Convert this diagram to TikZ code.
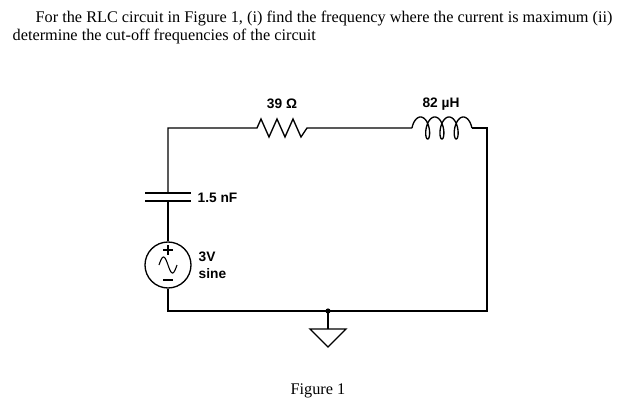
\documentclass[tikz,border=0pt]{standalone}
\usepackage{fontspec}
\setmainfont{Liberation Serif}
\newfontfamily\lab{Liberation Sans}
\begin{document}
\begin{tikzpicture}[x=0.75pt,y=-0.75pt,line width=1pt,
  lbl/.style={font=\lab\bfseries\fontsize{10.3}{12}\selectfont,inner sep=0pt},
  txt/.style={font=\fontsize{12.2}{14}\selectfont,inner sep=0pt,anchor=west}]
\useasboundingbox (0,0) rectangle (640,414);
\node[txt] (l1) at (35,19) {For the RLC circuit in Figure 1, (i) find the frequency where the current is maximum (ii)};
\node[txt] (l2) at (12,37) {determine the cut-off frequencies of the circuit};
\node[txt,anchor=center] (fig) at (318,391) {Figure 1};
% wires
\coordinate (ctop) at (168,193);
\coordinate (cbot) at (168,201);
\coordinate (tl) at (168,128);
\coordinate (r1) at (257,128);
\coordinate (r2) at (307,128);
\coordinate (l1s) at (412,128);
\coordinate (l2e) at (472,128);
\coordinate (tr) at (487,128);
\coordinate (br) at (487,311);
\coordinate (bl) at (168,311);
\coordinate (gj) at (328,311);
\node[circle,draw,minimum size=34.5pt,inner sep=0pt] (src) at (168,265) {};
\draw (ctop) -- (tl) -- (r1)
  -- ++(4,-9) -- ++(8,18) -- ++(8,-18) -- ++(8,18) -- ++(8,-18) -- ++(8,18) -- (r2)
  -- (l1s);
\draw[domain=90:1350,samples=300,smooth,variable=\t]
  plot ({413.4+2.27*\t*pi/180-5*sin(\t)},{128+11*cos(\t)});
\draw (l2e) -- (tr) -- (br) -- (bl) -- (src.south);
\draw (cbot) -- (src.north);
\draw (145,193) -- (191,193) (145,201) -- (191,201);
% source symbol
\draw[line width=0.8pt,domain=0:360,samples=50,smooth,variable=\t]
  plot ({159+18*\t/360},{265-8*sin(\t)});
\draw[line width=0.8pt] (163,250) -- (173,250) (168,245) -- (168,255) (163,280) -- (173,280);
% ground
\fill (gj) circle (2.6);
\draw (gj) -- (328,329);
\draw (310,329) -- (346,329) -- (328,347) -- cycle;
\node[lbl] (rl) at (282,104) {39 Ω};
\node[lbl] (ll) at (441,104) {82 µH};
\node[lbl,anchor=west] (cl) at (197,198) {1.5 nF};
\node[lbl,anchor=west] (vl) at (198,257) {3V};
\node[lbl,anchor=west] (sl) at (198,274) {sine};
\end{tikzpicture}
\end{document}
